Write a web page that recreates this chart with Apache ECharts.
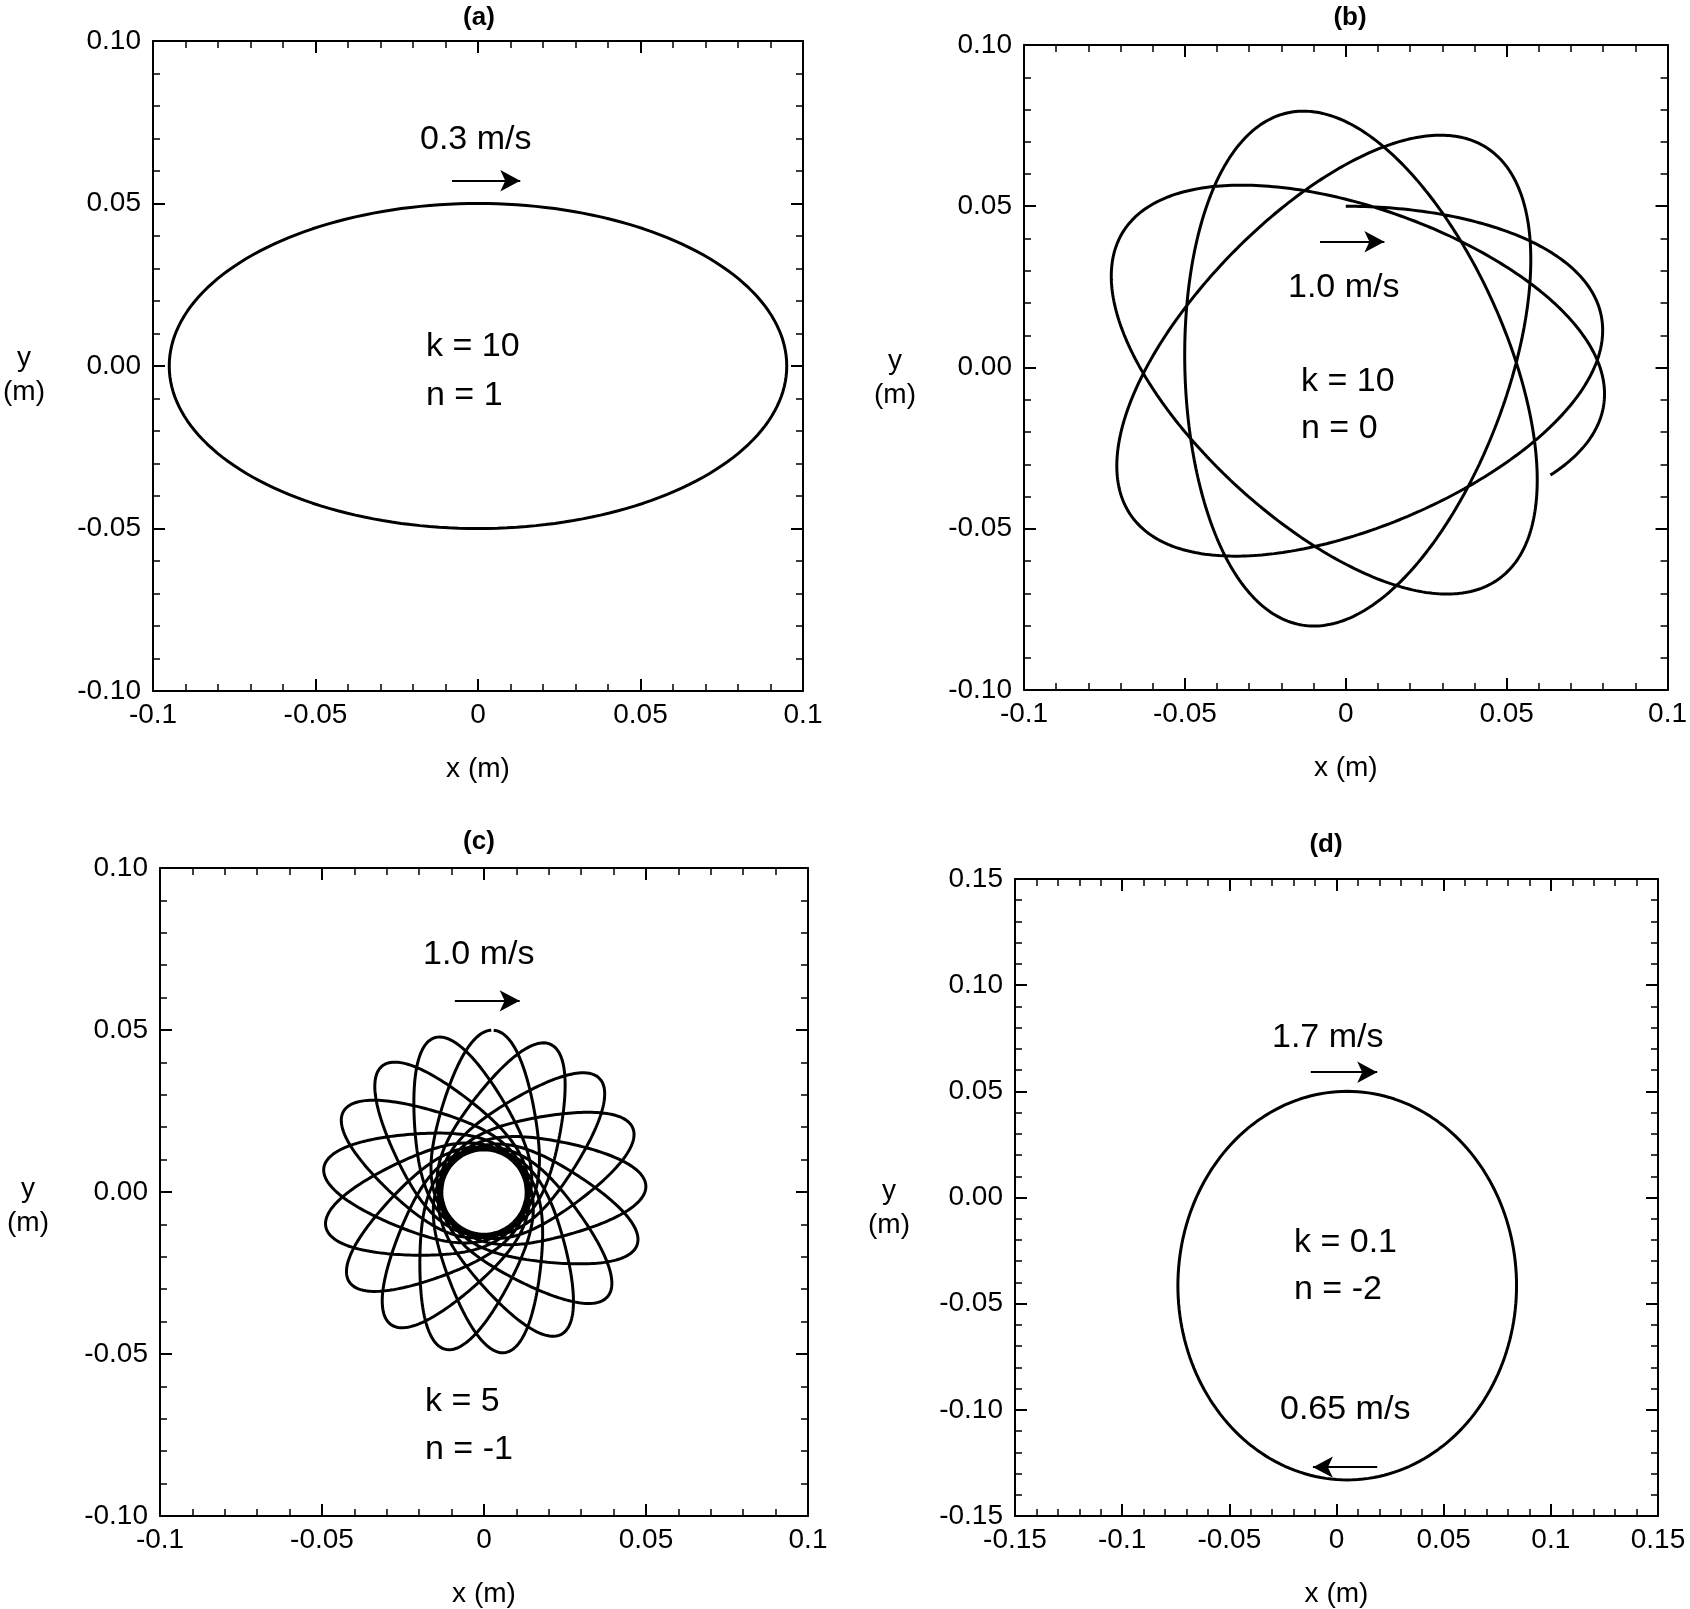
<!DOCTYPE html>
<html>
<head>
<meta charset="utf-8">
<script src="https://cdn.jsdelivr.net/npm/echarts@6/dist/echarts.min.js"></script>
<style>html,body{margin:0;padding:0;background:#fff}#main{width:1690px;height:1609px}</style>
</head>
<body>
<div id="main"></div>
<script>
// orbit shapes (metres)
const orbitA = { cx: 0, cy: 0, ax: 0.095, ay: 0.05 };
const orbitB = { major: 0.081, minor: 0.05, turns: 3.85, precessPerTurn: 0.8 };
const orbitC = { rIn: 0.013, rOut: 0.05, periods: 17, advance: 2 * Math.PI - 0.37 };
const orbitD = { cx: 0.005, cy: -0.0415, ax: 0.079, ay: 0.0915 };

const xLabels = { '-0.15': '-0.15', '-0.1': '-0.1', '-0.05': '-0.05', '0': '0', '0.05': '0.05', '0.1': '0.1', '0.15': '0.15' };
const yLabels = { '-0.15': '-0.15', '-0.1': '-0.10', '-0.05': '-0.05', '0': '0.00', '0.05': '0.05', '0.1': '0.10', '0.15': '0.15' };

function ellipse(o) {
    const pts = [];
    for (let i = 0; i <= 200; i++) {
        const t = i / 200 * 2 * Math.PI;
        pts.push([o.cx + o.ax * Math.sin(t), o.cy + o.ay * Math.cos(t)]);
    }
    return pts;
}
function precessing(o) {
    const pts = [];
    const n = 1200;
    for (let i = 0; i <= n; i++) {
        const t = i / n * o.turns * 2 * Math.PI;
        const u = o.major * Math.sin(t), v = o.minor * Math.cos(t);
        const p = o.precessPerTurn * t / (2 * Math.PI);
        pts.push([u * Math.cos(p) - v * Math.sin(p), u * Math.sin(p) + v * Math.cos(p)]);
    }
    return pts;
}
function rosette(o) {
    const pts = [];
    const steps = 300, mid = (o.rIn + o.rOut) / 2, amp = (o.rOut - o.rIn) / 2;
    // normalise angular speed ~ 1/r^2 so each radial period advances o.advance
    let norm = 0;
    for (let i = 0; i < steps; i++) { const r = mid + amp * Math.cos(i / steps * 2 * Math.PI); norm += 1 / (r * r); }
    let th = Math.PI / 2 - 0.06;
    for (let k = 0; k < o.periods * steps; k++) {
        const r = mid + amp * Math.cos(k / steps * 2 * Math.PI);
        pts.push([r * Math.cos(th), r * Math.sin(th)]);
        th -= o.advance * (1 / (r * r)) / norm;
    }
    return pts;
}

const grids = [
    { left: 153, top: 41, width: 650, height: 650 },
    { left: 1024, top: 45, width: 647, height: 645 },
    { left: 160, top: 868, width: 648, height: 650 },
    { left: 1015, top: 879, width: 643, height: 641 }
];
const ranges = [
    [-0.1, 0.1, -0.1, 0.1], [-0.1, 0.1, -0.1, 0.1],
    [-0.1, 0.1, -0.1, 0.1], [-0.15, 0.15, -0.15, 0.15]
];
const font = 'Liberation Sans, Arial, sans-serif';

const xAxis = [], yAxis = [];
ranges.forEach((r, i) => {
    const common = {
        gridIndex: i, type: 'value', interval: 0.05, splitLine: { show: false },
        axisLine: { onZero: false, lineStyle: { color: '#000', width: 2 } },
        axisTick: { inside: true, length: 12, lineStyle: { color: '#000', width: 2 } },
        minorTick: { show: true, splitNumber: 5, length: 7, lineStyle: { color: '#000', width: 1.5 } }
    };
    xAxis.push(Object.assign({}, common, {
        min: r[0], max: r[1], position: 'bottom',
        name: 'x (m)', nameLocation: 'middle', nameGap: 64,
        nameTextStyle: { fontSize: 28, color: '#000', fontFamily: font },
        axisLabel: { fontSize: 28, color: '#000', fontFamily: font, margin: 10,
            formatter: v => xLabels[String(+v.toFixed(2))] }
    }));
    xAxis.push(Object.assign({}, common, { min: r[0], max: r[1], position: 'top', axisLabel: { show: false } }));
    yAxis.push(Object.assign({}, common, {
        min: r[2], max: r[3], position: 'left',
        axisLabel: { fontSize: 28, color: '#000', fontFamily: font, margin: 12,
            formatter: v => yLabels[String(+v.toFixed(2))] }
    }));
    yAxis.push(Object.assign({}, common, { min: r[2], max: r[3], position: 'right', axisLabel: { show: false } }));
});

const arrows = [
    [[[-0.008, 0.057], [0.013, 0.057]]],
    [[[-0.008, 0.039], [0.012, 0.039]]],
    [[[-0.009, 0.059], [0.011, 0.059]]],
    [[[-0.012, 0.059], [0.019, 0.059]], [[0.019, -0.127], [-0.011, -0.127]]]
];
const orbits = [ellipse(orbitA), precessing(orbitB), rosette(orbitC), ellipse(orbitD)];

const series = orbits.map((d, i) => ({
    type: 'line', xAxisIndex: 2 * i, yAxisIndex: 2 * i, data: d,
    showSymbol: false, smooth: false, animation: false,
    lineStyle: { color: '#000', width: 3 },
    markLine: {
        silent: true, symbol: ['none', 'arrow'], symbolSize: [16, 20], animation: false,
        label: { show: false }, lineStyle: { color: '#000', width: 2, type: 'solid' },
        data: arrows[i].map(a => [{ coord: a[0] }, { coord: a[1] }])
    }
}));

function txt(x, y, s, size, bold) {
    return { type: 'text', x: x, y: y, style: { text: s, fontSize: size, fontFamily: font,
        fontWeight: bold ? 'bold' : 'normal', fill: '#000', textVerticalAlign: 'middle', textAlign: bold ? 'center' : 'left' } };
}
function ylab(x, y) {
    return { type: 'text', x: x, y: y, style: { text: 'y\n(m)', fontSize: 28, lineHeight: 34, fontFamily: font,
        fill: '#000', textAlign: 'center', textVerticalAlign: 'middle' } };
}
const graphic = [
    txt(479, 18, '(a)', 26, true), txt(1350, 18, '(b)', 26, true),
    txt(479, 842, '(c)', 26, true), txt(1326, 845, '(d)', 26, true),
    ylab(24, 375), ylab(895, 378), ylab(28, 1206), ylab(889, 1208),
    txt(420, 140, '0.3 m/s', 34), txt(426, 347, 'k = 10', 34), txt(426, 396, 'n = 1', 34),
    txt(1288, 288, '1.0 m/s', 34), txt(1301, 382, 'k = 10', 34), txt(1301, 429, 'n = 0', 34),
    txt(423, 955, '1.0 m/s', 34), txt(425, 1402, 'k = 5', 34), txt(425, 1450, 'n = -1', 34),
    txt(1272, 1038, '1.7 m/s', 34), txt(1294, 1243, 'k = 0.1', 34), txt(1294, 1290, 'n = -2', 34),
    txt(1280, 1410, '0.65 m/s', 34)
];

const chart = echarts.init(document.getElementById('main'));
chart.setOption({ animation: false, grid: grids, xAxis: xAxis, yAxis: yAxis, series: series, graphic: graphic });
window.addEventListener('resize', function () { chart.resize(); });
</script>
</body>
</html>
